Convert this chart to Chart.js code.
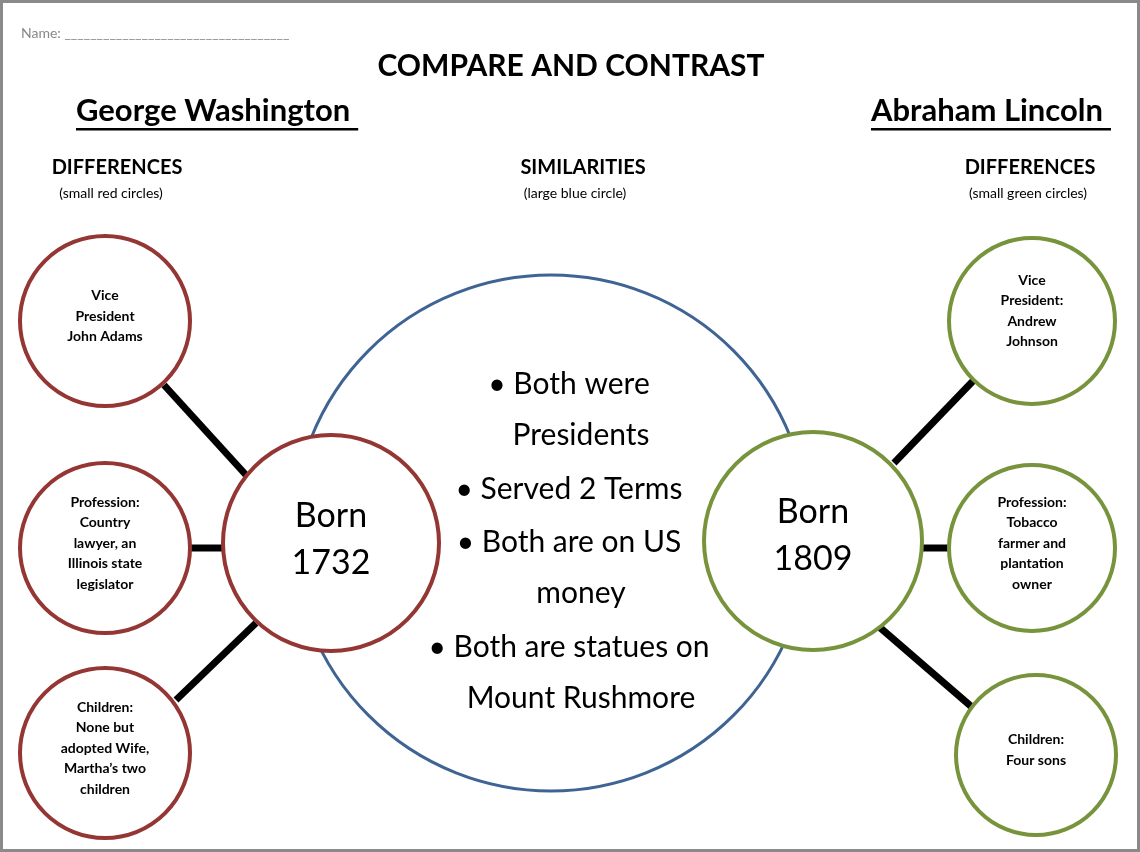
<!DOCTYPE html>
<html>
<head>
<meta charset="utf-8">
<script src="https://cdn.jsdelivr.net/npm/chart.js@4.4.1/dist/chart.umd.min.js"></script>
<style>
  html, body { margin: 0; padding: 0; background: #fff; }
  #wrap { width: 1134px; height: 846px; border: 3px solid #8a8a8a; position: relative; }
</style>
</head>
<body>
<div id="wrap"><canvas id="diagram" width="1134" height="846"></canvas></div>
<script>
// ---------- data ----------
const bigCircle = [{ x: 548, y: 530, r: 258 }];
const redBorn = [{ x: 328, y: 540, r: 108 }];
const greenBorn = [{ x: 810, y: 538, r: 109 }];
const redSmall = [{ x: 102, y: 318, r: 85 }, { x: 102, y: 545, r: 85 }, { x: 102, y: 750, r: 85 }];
const greenSmall = [{ x: 1029, y: 318, r: 83 }, { x: 1029, y: 545, r: 83 }, { x: 1033, y: 752, r: 80 }];
const connectors = [
  [{ x: 161, y: 382 }, { x: 243, y: 472 }],
  [{ x: 188, y: 545 }, { x: 220, y: 545 }],
  [{ x: 173, y: 697 }, { x: 253, y: 620 }],
  [{ x: 891, y: 460 }, { x: 970, y: 378 }],
  [{ x: 918, y: 545 }, { x: 948, y: 545 }],
  [{ x: 874, y: 622 }, { x: 970, y: 705 }]
];

const redTexts = [["Vice", "President", "John Adams"],
  ["Profession:", "Country", "lawyer, an", "Illinois state", "legislator"],
  ["Children:", "None but", "adopted Wife,", "Martha\u2019s two", "children"]];
const greenTexts = [["Vice", "President:", "Andrew", "Johnson"],
  ["Profession:", "Tobacco", "farmer and", "plantation", "owner"],
  ["Children:", "Four sons"]];
const similarities = [["\u2022 Both were", "Presidents"], ["\u2022 Served 2 Terms"],
  ["\u2022 Both are on US", "money"], ["\u2022 Both are statues on", "Mount Rushmore"]];

const FONT = "Lato, 'Open Sans', sans-serif";

const textPlugin = {
  id: "texts",
  afterDraw(chart) {
    const c = chart.ctx, sx = chart.scales.x, sy = chart.scales.y;
    const px = v => sx.getPixelForValue(v), py = v => sy.getPixelForValue(v);
    c.save();
    c.fillStyle = "#000";
    c.textBaseline = "middle";

    function put(t, x, y, font, align, underline) {
      c.font = font; c.textAlign = align || "center";
      c.fillText(t, px(x), py(y));
      if (underline) {
        const w = c.measureText(t).width;
        const x0 = align === "left" ? px(x) : align === "right" ? px(x) - w : px(x) - w / 2;
        c.fillRect(x0, py(y) + 17, w + 8, 2.5);
      }
    }
    c.fillStyle = "#888";
    put("Name: ___________________________________", 18, 30, "14px " + FONT, "left");
    c.fillStyle = "#000";
    put("COMPARE AND CONTRAST", 568, 63, "bold 30px " + FONT);
    put("George Washington", 73, 108, "bold 31px " + FONT, "left", true);
    put("Abraham Lincoln", 1100, 108, "bold 31px " + FONT, "right", true);
    put("DIFFERENCES", 114, 165, "bold 20px " + FONT);
    put("(small red circles)", 108, 190, "14px " + FONT);
    put("SIMILARITIES", 580, 165, "bold 20px " + FONT);
    put("(large blue circle)", 572, 190, "14px " + FONT);
    put("DIFFERENCES", 1027, 165, "bold 20px " + FONT);
    put("(small green circles)", 1025, 190, "14px " + FONT);

    function block(lines, cx, cy, size, lh) {
      const top = cy - (lines.length - 1) * lh / 2;
      lines.forEach((l, i) => put(l, cx, top + i * lh, size));
    }
    redSmall.forEach((p, i) => block(redTexts[i], p.x, p.y - 5, "bold 14px " + FONT, 20.5));
    greenSmall.forEach((p, i) => block(greenTexts[i], p.x, p.y - (i === 0 ? 10 : 5), "bold 14px " + FONT, 20.5));
    block(["Born", "1732"], redBorn[0].x, redBorn[0].y - 3, "34px " + FONT, 47);
    block(["Born", "1809"], greenBorn[0].x, greenBorn[0].y - 5, "34px " + FONT, 47);

    const simY = [381, 486, 539, 644];
    similarities.forEach((s, i) => {
      s.forEach((l, j) => put(l, 566 + (j === 0 ? 0 : 12), simY[i] + j * 51, "30px " + FONT));
    });
    c.restore();
  }
};

const bubble = (data, color, w) => ({
  type: "bubble", data, backgroundColor: "rgba(255,255,255,1)",
  borderColor: color, borderWidth: w, hoverBorderWidth: w, clip: false
});

const lineSets = connectors.map(seg => ({
  type: "line", data: seg, borderColor: "#000", borderWidth: 7,
  pointRadius: 0, showLine: true, clip: false, order: 5
}));

new Chart(document.getElementById("diagram"), {
  data: {
    datasets: [
      ...lineSets,
      Object.assign(bubble(bigCircle, "#3f6494", 3), { order: 4 }),
      Object.assign(bubble(redBorn, "#943634", 4), { order: 1 }),
      Object.assign(bubble(greenBorn, "#77933c", 4), { order: 1 }),
      Object.assign(bubble(redSmall, "#943634", 4), { order: 1 }),
      Object.assign(bubble(greenSmall, "#77933c", 4), { order: 1 })
    ]
  },
  options: {
    responsive: false, animation: false, devicePixelRatio: 1,
    layout: { padding: 0, autoPadding: false },
    events: [],
    plugins: { legend: { display: false }, tooltip: { enabled: false } },
    scales: {
      x: { type: "linear", min: 0, max: 1134, display: false },
      y: { type: "linear", min: 0, max: 846, reverse: true, display: false }
    }
  },
  plugins: [textPlugin]
});
</script>
</body>
</html>
